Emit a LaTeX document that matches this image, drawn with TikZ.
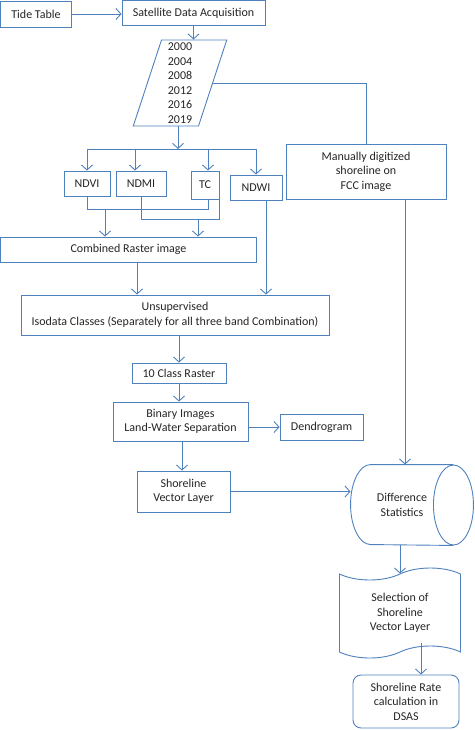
\documentclass[tikz,border=0pt]{standalone}
\usepackage{fontspec}
\setmainfont{Carlito}
\usepackage{tikz}
\usetikzlibrary{shapes.geometric,shapes.symbols,arrows.meta,positioning,calc}

\definecolor{flowblue}{RGB}{79,129,189}
\definecolor{flowtext}{RGB}{38,38,38}

\tikzset{
    box/.style={draw=flowblue, line width=0.9pt, fill=white, text=flowtext, align=center, inner sep=1pt, font=\fontsize{12}{14.5}\selectfont},
    arr/.style={-{Straight Barb[length=5pt,width=11pt]}, draw=flowblue, line width=0.9pt},
    ln/.style={draw=flowblue, line width=0.9pt},
}

\begin{document}
\begin{tikzpicture}[x=1pt, y=-1pt]
\useasboundingbox (0,0) rectangle (474,730);

  % Acquisition
  \node[box, minimum width=71pt, minimum height=26pt] (tide) at (36,14) {Tide Table};
  \node[box, minimum width=143pt, minimum height=25pt] (sat) at (193.5,13) {Satellite Data Acquisition};
  \node[box, trapezium, trapezium left angle=77, trapezium right angle=103, trapezium stretches=true,
        minimum width=94pt, minimum height=86pt, inner sep=0pt, text depth=-3pt] (years) at (180,83) {2000\\2004\\2008\\2012\\2016\\2019};
  \node[box, minimum width=160pt, minimum height=55pt] (fcc) at (366,171.5) {Manually digitized\\shoreline on\\FCC image};

  % Indices
  \node[box, minimum width=46pt, minimum height=25pt] (ndvi) at (87,183.5) {NDVI};
  \node[box, minimum width=50pt, minimum height=25pt] (ndmi) at (141,183.5) {NDMI};
  \node[box, minimum width=28pt, minimum height=28pt] (tc) at (205,185) {TC};
  \node[box, minimum width=52pt, minimum height=25pt] (ndwi) at (256,187.5) {NDWI};

  % Classification
  \node[box, minimum width=256pt, minimum height=25pt] (comb) at (128.5,249.5) {Combined Raster image};
  \node[box, minimum width=308pt, minimum height=40pt] (unsup) at (175,315) {Unsupervised\\Isodata Classes (Separately for all three band Combination)};
  \node[box, minimum width=94pt, minimum height=20pt] (ten) at (179,373) {10 Class Raster};
  \node[box, minimum width=135pt, minimum height=39pt] (bin) at (180.5,421.5) {Binary Images\\Land-Water Separation};
  \node[box, minimum width=83pt, minimum height=26pt] (dendro) at (321.5,427) {Dendrogram};
  \node[box, minimum width=93pt, minimum height=41pt] (shore) at (183.5,491.5) {Shoreline\\Vector Layer};

  % Shoreline analysis
  \node[box, draw=none, fill=none, minimum width=102pt, minimum height=80pt] (diff) at (402,505) {Difference\\Statistics};
  \draw[ln] (diff.east) ellipse [x radius=20pt, y radius=40pt];
  \draw[ln] (diff.north east) -- ([xshift=20pt]diff.north west)
    arc[start angle=90, end angle=270, x radius=20pt, y radius=40pt] -- (diff.south east);
  \node[box, tape, minimum width=121pt, minimum height=90pt, tape bend height=12pt] (sel) at (400,613) {Selection of\\Shoreline\\Vector Layer};
  \node[box, rounded corners=8pt, minimum width=106pt, minimum height=53pt] (rate) at (406,701.5) {Shoreline Rate\\calculation in\\DSAS};

  \coordinate (split) at (178,149);
  \coordinate (m1) at (105,209);
  \coordinate (m2) at (198,219);
  \coordinate (selout) at ([xshift=21pt,yshift=-30pt]sel.center);

  % Links
  \draw[arr] (tide.east) -- (tide.east -| sat.west);
  \draw[arr] (sat.south) -- (sat.south |- years.north);
  \draw[ln] (years.east) -| (fcc.north);
  \draw[arr] (years.south -| split) -- (split);
  \draw[ln] (ndvi.north |- split) -- (ndwi.north |- split);
  \draw[arr] (ndvi.north |- split) -- (ndvi.north);
  \draw[arr] ([xshift=-6pt]ndmi.north |- split) -- ([xshift=-6pt]ndmi.north);
  \draw[arr] ([xshift=3pt]tc.north |- split) -- ([xshift=3pt]tc.north);
  \draw[arr] (ndwi.north |- split) -- (ndwi.north);
  \draw[ln] (ndvi.south) -- ++(0,13) -| ([xshift=3pt]tc.south);
  \draw[ln] (ndmi.south) -- ++(0,23) -| ([yshift=3pt]tc.south east);
  \draw[arr] (m1) -- (m1 |- comb.north);
  \draw[arr] (m2) -- (m2 |- comb.north);
  \draw[arr] ([xshift=8.5pt]comb.south) -- ([xshift=8.5pt]comb.south |- unsup.north);
  \draw[arr] ([xshift=10pt]ndwi.south) -- ([xshift=10pt]ndwi.south |- unsup.north);
  \draw[arr] (ten.north |- unsup.south) -- (ten.north);
  \draw[arr] (ten.south) -- (ten.south |- bin.north);
  \draw[arr] (bin.east |- dendro.west) -- (dendro.west);
  \draw[arr] ([xshift=1.5pt]bin.south) -- ([xshift=1.5pt]bin.south |- shore.north);
  \draw[arr] (shore.east) -- (shore.east -| diff.west);
  \draw[arr] ([xshift=39pt]fcc.south) -- ([xshift=39pt]fcc.south |- diff.north);
  \draw[arr] (sel.north |- diff.south) -- (sel.north);
  \draw[arr] (selout) -- (selout |- rate.north);
\end{tikzpicture}
\end{document}
